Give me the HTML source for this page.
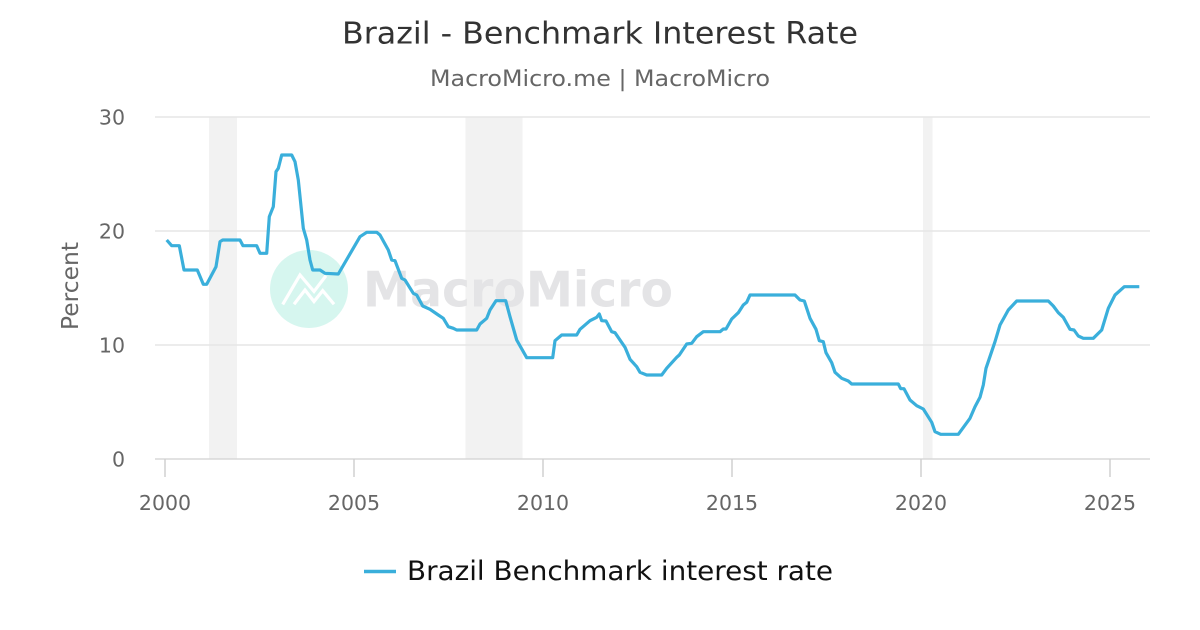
<!DOCTYPE html>
<html>
<head>
<meta charset="utf-8">
<style>
  html, body { margin: 0; padding: 0; background: #ffffff; }
  body { width: 1200px; height: 630px; overflow: hidden; }
  svg { display: block; font-family: "DejaVu Sans", "Liberation Sans", sans-serif; }
</style>
</head>
<body>
<svg width="1200" height="630" viewBox="0 0 1200 630" xmlns="http://www.w3.org/2000/svg">
  <rect x="0" y="0" width="1200" height="630" fill="#ffffff"/>

  <!-- Title -->
  <text x="600" y="43.5" text-anchor="middle" font-size="30.5" fill="#333333" textLength="516" lengthAdjust="spacingAndGlyphs">Brazil - Benchmark Interest Rate</text>
  <text x="600" y="86" text-anchor="middle" font-size="22.5" fill="#666666" textLength="340" lengthAdjust="spacingAndGlyphs">MacroMicro.me | MacroMicro</text>

  <!-- Recession bands -->
  <rect x="209" y="117" width="28" height="342" fill="#f2f2f2"/>
  <rect x="465.5" y="117" width="57" height="342" fill="#f2f2f2"/>
  <rect x="923" y="117" width="9.5" height="342" fill="#f2f2f2"/>

  <!-- Gridlines -->
  <g stroke="#e6e6e6" stroke-width="1.5">
    <line x1="155" y1="117" x2="1150" y2="117"/>
    <line x1="155" y1="231" x2="1150" y2="231"/>
    <line x1="155" y1="345" x2="1150" y2="345"/>
  </g>
  <!-- X axis line -->
  <line x1="155" y1="459" x2="1150" y2="459" stroke="#d8d8d8" stroke-width="1.5"/>
  <!-- Ticks -->
  <g stroke="#d0d0d0" stroke-width="1.5">
    <line x1="165" y1="459" x2="165" y2="477"/>
    <line x1="354" y1="459" x2="354" y2="477"/>
    <line x1="543" y1="459" x2="543" y2="477"/>
    <line x1="732" y1="459" x2="732" y2="477"/>
    <line x1="921" y1="459" x2="921" y2="477"/>
    <line x1="1110" y1="459" x2="1110" y2="477"/>
  </g>

  <!-- Y labels -->
  <g font-size="20.5" fill="#666666" text-anchor="end">
    <text x="125" y="124.5">30</text>
    <text x="125" y="238.5">20</text>
    <text x="125" y="352.5">10</text>
    <text x="125" y="466.5">0</text>
  </g>
  <!-- Y title -->
  <text transform="translate(78,286) rotate(-90)" text-anchor="middle" font-size="23.5" fill="#666666" textLength="88" lengthAdjust="spacingAndGlyphs">Percent</text>

  <!-- X labels -->
  <g font-size="20.5" fill="#666666" text-anchor="middle">
    <text x="165" y="510">2000</text>
    <text x="354" y="510">2005</text>
    <text x="543" y="510">2010</text>
    <text x="732" y="510">2015</text>
    <text x="921" y="510">2020</text>
    <text x="1110" y="510">2025</text>
  </g>

  <!-- Watermark -->
  <circle cx="309" cy="289" r="39" fill="#d6f6ef"/>
  <g fill="none" stroke="#ffffff" stroke-width="3.2" stroke-linejoin="miter" stroke-linecap="square">
    <polyline points="283.5,303 300,275 314,291.5 325,277"/>
    <polyline points="295,303 305,290 314,301.5 322.7,290.7 333,303"/>
  </g>
  <text x="363" y="306.7" font-size="49" font-weight="bold" fill="#e4e4e6" textLength="310" lengthAdjust="spacingAndGlyphs">MacroMicro</text>

  <!-- Series -->
  <polyline fill="none" stroke="#3aafdb" stroke-width="3.2" stroke-linejoin="round" stroke-linecap="butt"
    points="166.7,240 171.7,245.7 179.3,245.7 184,270 197.3,270 203.3,284.3 206.7,284.3 216,266.7 220,241.7 222.7,240 240,240 243,245.7 256.7,245.7 260,253.3 266.7,253.3 269.3,216.7 273.3,206.7 276,171.7 278.3,168.3 281.7,155 291.7,155 295,161.7 298.3,180 303.3,228.3 306.7,240 310,260 312.7,270 320,270 325,273.3 338.3,274 360,236.7 366.7,232.3 376.7,232.3 380,235 388.3,250 391.7,260 395,260.7 401.7,278.3 405,280 413.3,293.3 416.7,295 422.7,306 430,309.3 438.3,315 443.3,318.3 448.3,326.7 453.3,328.3 456.7,330 476.7,330 480,324 486.7,318.3 490,310 496,300.7 505.7,300.7 510,316.7 516.7,340 526.7,357.7 552.7,357.7 555,340.7 561.7,335 576.7,335 580,329.3 590,320.7 596.7,317.3 599.3,314 601.7,320.7 606,321 611.7,331.7 615,332.7 625,347.3 630,359.3 636.7,366.7 640,372.3 646.7,375 661.7,375 666.7,368.3 676.7,357.3 679.3,355 686.7,344 691.7,343.3 696.7,336.7 703.3,331.7 720,331.7 723.3,329 726,329 731.7,319 738.3,312.7 743.3,305 746.7,302.3 750,295 795,295 800,300 804.3,301 810,318.3 816,329.3 819.3,340.7 823.3,341.7 826,352.7 831.7,362.7 835,372.3 841.7,378.3 848.3,381 851.7,384 898.3,384 900.7,388.7 904,388.7 910,400 916.7,405.7 923.3,409 931.7,422.3 935,431.7 940.7,434.3 958.3,434.3 970,418.3 975,406.7 980,397.3 983.3,385 986,368.3 995,341.7 1000,325 1008.3,310 1016.7,301 1048.3,301 1053.3,306 1058.3,312.7 1063.3,317.3 1070,329.3 1074,330 1078.3,336 1083.3,338.3 1093.3,338.3 1101.7,330 1108.3,308.3 1115,295 1124.3,286.7 1139.3,286.7"/>

  <!-- Legend -->
  <line x1="364" y1="571.5" x2="396" y2="571.5" stroke="#3aafdb" stroke-width="3.5"/>
  <text x="407" y="580" font-size="26.5" fill="#111111" textLength="426" lengthAdjust="spacingAndGlyphs">Brazil Benchmark interest rate</text>
</svg>
</body>
</html>
